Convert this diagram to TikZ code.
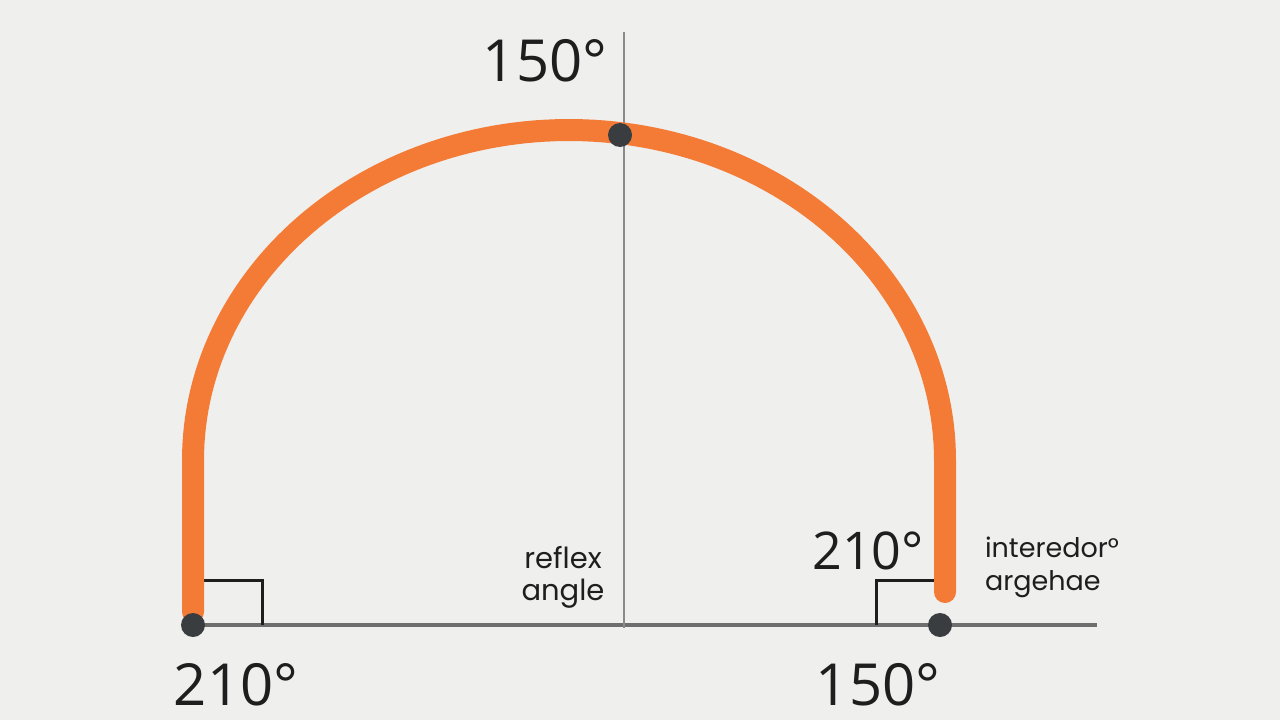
\documentclass[tikz,border=0pt]{standalone}
\usepackage{fontspec}
\setmainfont{Open Sans}
\newfontfamily\labelfont{Poppins}
\definecolor{bgc}{HTML}{EFEFEE}
\definecolor{arcorange}{HTML}{F47B35}
\definecolor{dotgray}{HTML}{3A3D40}
\definecolor{axisgray}{HTML}{6E6E6E}
\definecolor{vgray}{HTML}{8A8A8A}
\definecolor{inkc}{HTML}{1E1E1E}
\tikzset{
  arcline/.style={draw=arcorange, line width=22pt, line cap=round},
  axisline/.style={draw=axisgray, line width=3.5pt},
  vline/.style={draw=vgray, line width=2.5pt},
  rightmark/.style={draw=inkc, line width=3pt},
  dotnode/.style={circle, fill=dotgray, minimum size=24pt, inner sep=0pt},
  deglabel/.style={text=inkc, inner sep=0pt, font=\fontsize{58}{58}\selectfont},
  smalldeg/.style={text=inkc, inner sep=0pt, font=\fontsize{52}{52}\selectfont},
  wordlabel/.style={text=inkc, inner sep=0pt, align=center, font=\labelfont\fontsize{29}{32}\selectfont},
  rwordlabel/.style={text=inkc, inner sep=0pt, align=left, font=\labelfont\fontsize{27}{33}\selectfont}
}
\begin{document}
\begin{tikzpicture}[x=1pt,y=-1pt]
\fill[bgc] (0,0) rectangle (1280,720);
\useasboundingbox (0,0) rectangle (1280,720);
% coordinates
\coordinate (axL) at (193,625);
\coordinate (axR) at (1097,625);
\coordinate (vT) at (624,32);
\coordinate (vB) at (624,628);
\coordinate (L0) at (193,612);
\coordinate (L1) at (193,460);
\coordinate (R0) at (945,592);
% axes
\draw[axisline] (axL) -- (axR);
\draw[vline] (vT) -- (vB);
% right angle markers
\coordinate (ma1) at (203,580);
\coordinate (ma2) at (262,580);
\coordinate (ma3) at (262,625);
\draw[rightmark] (ma1) -- (ma2) -- (ma3);
\coordinate (mb1) at (935,580);
\coordinate (mb2) at (876,580);
\coordinate (mb3) at (876,625);
\draw[rightmark] (mb1) -- (mb2) -- (mb3);
% orange arc
\draw[arcline] (L0) -- (L1)
  -- plot[domain=180:360, samples=120] ({569+376*cos(\x)}, {460+330*sin(\x)})
  -- (R0);
% dots
\node[dotnode] (dL) at (193,625) {};
\node[dotnode] (dR) at (940,625) {};
\node[dotnode] (dT) at (620,135) {};
% labels
\node[deglabel] (t150) at (545,61) {150°};
\node[deglabel] (b210) at (236,685) {210°};
\node[smalldeg] (r210) at (868,551) {210°};
\node[deglabel] (b150) at (878,685) {150°};
\node[wordlabel] (refl) at (563,577) {reflex\\angle};
\node[rwordlabel] (intr) at (1052,567) {interedor°\\argehae};
\end{tikzpicture}
\end{document}
